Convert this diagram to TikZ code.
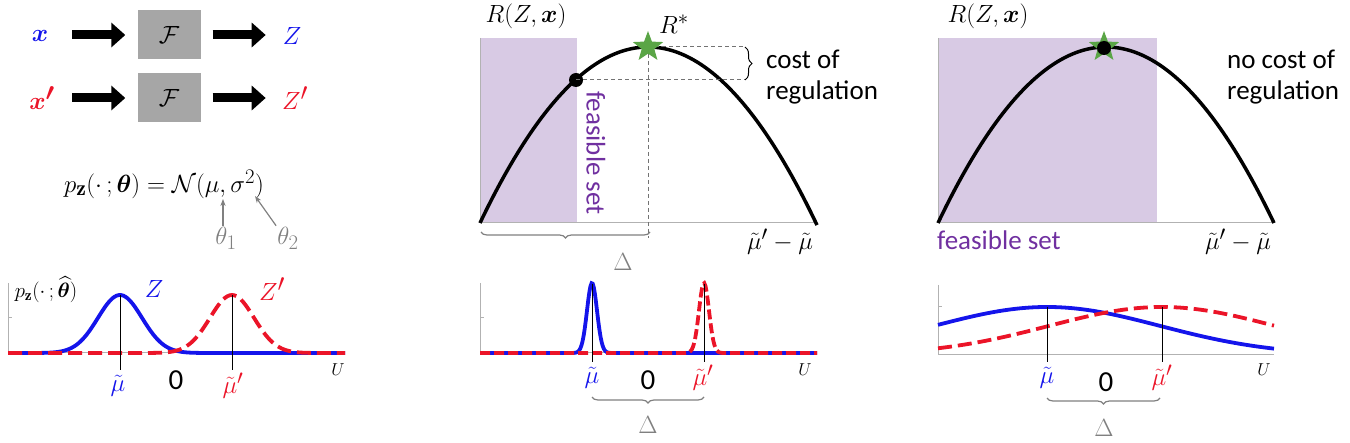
\documentclass[tikz,border=0pt]{standalone}
\usepackage{amsmath,amssymb,bm}
\usepackage{fontspec}
\newfontfamily\calib{Carlito}
\usetikzlibrary{arrows.meta,shapes.geometric,decorations.pathreplacing}
\definecolor{feas}{RGB}{216,202,228}
\definecolor{feastxt}{RGB}{112,48,160}
\definecolor{rd}{RGB}{235,20,40}
\definecolor{bl}{RGB}{20,20,235}
\definecolor{gr}{RGB}{128,128,128}
\definecolor{stargreen}{RGB}{90,165,70}
\tikzset{
 fbox/.style={fill=gr!70,minimum width=63pt,minimum height=49pt,inner sep=0pt},
 fat/.style={line width=9pt,-{Triangle[length=14pt,width=24pt]}},
 ax/.style={gray!60,line width=1pt},
 curve/.style={line width=3.5pt},
 bluec/.style={bl,line width=3.8pt},
 redc/.style={rd,line width=3.8pt,dash pattern=on 14pt off 6pt},
 vline/.style={black,line width=1pt},
 dsh/.style={gray!90!black,line width=1pt,dash pattern=on 4pt off 3pt},
 brc/.style={gray,line width=1.2pt,decorate,decoration={brace,mirror,amplitude=6pt}},
 lbl/.style={font=\fontsize{29}{32}\selectfont,inner sep=1pt},
 big/.style={font=\fontsize{38}{40}\selectfont,inner sep=1pt},
 mth/.style={font=\fontsize{31}{34}\selectfont,inner sep=1pt},
 txt/.style={font=\calib\fontsize{27}{31}\selectfont,inner sep=1pt,align=left},
 star5/.style={star,star points=5,star point ratio=2.4,fill=stargreen,minimum size=32pt,inner sep=0pt},
 dot/.style={circle,fill=black,minimum size=14pt,inner sep=0pt}
}
\begin{document}
\begin{tikzpicture}[x=1pt,y=-1pt]
\useasboundingbox (0,0) rectangle (1350,443);
% ---------- panel 1 top
\node[big,text=bl] (x) at (40,36) {$\bm{x}$};
\node[fbox] (F1) at (169,35) {\fontsize{34}{36}\selectfont$\mathcal{F}$};
\node[big,text=bl] (Z) at (292,36) {$Z$};
\node[big,text=rd] (xp) at (42,98) {$\bm{x'}$};
\node[fbox] (F2) at (169,98) {\fontsize{34}{36}\selectfont$\mathcal{F}$};
\node[big,text=rd] (Zp) at (295,98) {$Z'$};
\draw[fat] ([xshift=-65pt]F1.west) -- ([xshift=-12pt]F1.west);
\draw[fat] ([xshift=12pt]F1.east) -- ([xshift=65pt]F1.east);
\draw[fat] ([xshift=-65pt]F2.west) -- ([xshift=-12pt]F2.west);
\draw[fat] ([xshift=12pt]F2.east) -- ([xshift=65pt]F2.east);
\node[mth] (form) at (164,184) {$p_{\mathbf z}(\cdot\,;\bm\theta)=\mathcal{N}(\mu,\sigma^2)$};
\node[mth,text=gr] (t1) at (226,238) {$\theta_1$};
\node[mth,text=gr] (t2) at (288,238) {$\theta_2$};
\coordinate (m1) at (223,199);
\coordinate (s2) at (255,196);
\draw[gr,line width=1.2pt,-{Stealth[length=7pt]}] (t1.north -| m1) -- (m1);
\draw[gr,line width=1.2pt,-{Stealth[length=7pt]}] (t2.north west) -- (s2);
% ---------- panel 1 bottom
\coordinate (o1) at (8,353);
\draw[ax] (8,283) -- (o1) -- (345,353);
\draw[ax] (8,318) -- (12,318);
\draw[bluec] plot[domain=8:345,samples=150] (\x,{353-58*exp(-min(((\x-120)/22)^2/2,30))});
\draw[redc] plot[domain=8:345,samples=150] (\x,{353-58*exp(-min(((\x-232)/22)^2/2,30))});
\draw[vline] (120,295) -- (120,370);
\draw[vline] (232,295) -- (232,370);
\node[inner sep=1pt,font=\fontsize{22}{24}\selectfont] (pz) at (46,290) {$p_{\mathbf z}(\cdot\,;\widehat{\bm\theta})$};
\node[big,text=bl] (Zl) at (154,289) {$Z$};
\node[big,text=rd] (Zpl) at (272,289) {$Z'$};
\node[lbl,text=bl] (mu1) at (118,386) {$\tilde\mu$};
\node[txt,font=\calib\fontsize{29}{31}\selectfont] (z1) at (176,380) {0};
\node[lbl,text=rd] (mup1) at (233,386) {$\tilde\mu'$};
\node[inner sep=1pt,font=\fontsize{19}{20}\selectfont] (U1) at (338,370) {$U$};
% ---------- panel 2 top
\fill[feas] (480,38) rectangle (577,223);
\draw[ax] (480,38) -- (480,223) -- (817,223);
\draw[curve] plot[domain=480:817,samples=120] (\x,{47+176*((\x-648)/168)^2});
\node[dot] (d2) at (576,80) {};
\coordinate (s2c) at (648,47);
\coordinate (c2a) at (745,47);
\coordinate (c2b) at (745,80);
\coordinate (c2c) at (648,238);
\draw[dsh] (s2c) -- (c2a);
\draw[dsh] (d2.center) -- (c2b);
\draw[dsh] (s2c) -- (c2c);
\node[star5] (s2n) at (s2c) {};
\draw[black,line width=1pt,decorate,decoration={brace,amplitude=7pt}] (c2a) -- (c2b);
\node[txt,anchor=west] (cost) at (765,77) {cost of\\regulation};
\node[txt,text=feastxt,rotate=-90,anchor=west] (fs2) at (596,90) {feasible set};
\node[mth] (R2) at (526,16) {$R(Z,\bm{x})$};
\node[mth] (Rs) at (674,24) {$R^{*}$};
\node[mth] (dd2) at (780,242) {$\tilde\mu'-\tilde\mu$};
\coordinate (b2a) at (481,232);
\coordinate (b2b) at (650,232);
\draw[brc] (b2a) -- (b2b);
\node[txt,text=gr] (D2) at (623,262) {$\Delta$};
% ---------- panel 2 bottom
\draw[ax] (480,283) -- (480,353) -- (817,353);
\draw[ax] (480,318) -- (484,318);
\draw[bluec] plot[domain=480:817,samples=300] (\x,{353-70*exp(-min(((\x-592)/5)^2/2,30))});
\draw[redc,dash pattern=on 10pt off 4pt] plot[domain=480:817,samples=300] (\x,{353-70*exp(-min(((\x-704)/5)^2/2,30))});
\draw[vline] (592,284) -- (592,362);
\draw[vline] (704,284) -- (704,362);
\node[lbl,text=bl] (mu2) at (592,378) {$\tilde\mu$};
\node[txt,font=\calib\fontsize{29}{31}\selectfont] (z2) at (648,380) {0};
\node[lbl,text=rd] (mup2) at (703,378) {$\tilde\mu'$};
\node[inner sep=1pt,font=\fontsize{19}{20}\selectfont] (U2) at (805,370) {$U$};
\draw[brc] (592,397) -- (704,397);
\node[txt,text=gr] (D2b) at (648,425) {$\Delta$};
% ---------- panel 3 top
\fill[feas] (938,38) rectangle (1157,223);
\draw[ax] (938,38) -- (938,223) -- (1274,223);
\draw[curve] plot[domain=938:1274,samples=120] (\x,{47+176*((\x-1106)/168)^2});
\node[star5] (s3) at (1104,47) {};
\node[dot] (d3) at (1104,48) {};
\node[txt,anchor=west] (nocost) at (1226,77) {no cost of\\regulation};
\node[txt,text=feastxt,anchor=west] (fs3) at (936,240) {feasible set};
\node[mth] (R3) at (988,16) {$R(Z,\bm{x})$};
\node[mth] (dd3) at (1238,242) {$\tilde\mu'-\tilde\mu$};
% ---------- panel 3 bottom
\draw[ax] (938,285) -- (938,355) -- (1274,355);
\draw[ax] (938,307) -- (942,307);
\draw[bluec] plot[domain=938:1274,samples=120] (\x,{355-48*exp(-((\x-1047)/113)^2/2)});
\draw[redc] plot[domain=938:1274,samples=120] (\x,{355-48*exp(-((\x-1162)/113)^2/2)});
\draw[vline] (1047,307) -- (1047,362);
\draw[vline] (1162,307) -- (1162,362);
\node[lbl,text=bl] (mu3) at (1047,378) {$\tilde\mu$};
\node[txt,font=\calib\fontsize{29}{31}\selectfont] (z3) at (1106,382) {0};
\node[lbl,text=rd] (mup3) at (1162,378) {$\tilde\mu'$};
\node[inner sep=1pt,font=\fontsize{19}{20}\selectfont] (U3) at (1264,370) {$U$};
\draw[brc] (1047,398) -- (1160,398);
\node[txt,text=gr] (D3) at (1104,428) {$\Delta$};
\end{tikzpicture}
\end{document}
